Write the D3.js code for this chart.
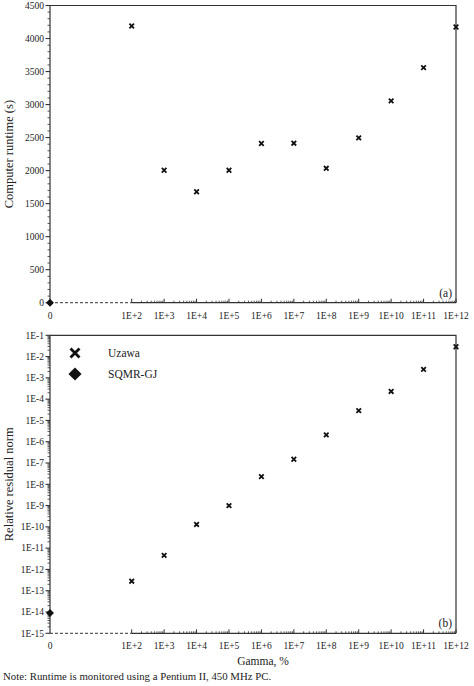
<!DOCTYPE html>
<html>
<head>
<meta charset="utf-8">
<script src="https://cdn.jsdelivr.net/npm/d3@7"></script>
<style>
  body { margin: 0; background: #fff; }
  text { font-family: "Liberation Serif", "DejaVu Serif", serif; fill: #222; }
</style>
</head>
<body>
<div id="chart"></div>
<script>
// data
var gammaLabels = ["1E+2", "1E+3", "1E+4", "1E+5", "1E+6", "1E+7", "1E+8", "1E+9", "1E+10", "1E+11", "1E+12"];
var gamma = [1e2, 1e3, 1e4, 1e5, 1e6, 1e7, 1e8, 1e9, 1e10, 1e11, 1e12];
var runtimeUzawa = [4190, 2005, 1680, 2005, 2410, 2415, 2035, 2495, 3055, 3560, 4175];
var residualUzawa = [2.8e-13, 4.6e-12, 1.3e-10, 1.0e-9, 2.3e-8, 1.5e-7, 2.1e-6, 2.9e-5, 2.3e-4, 2.5e-3, 2.9e-2];
var runtimeSQMR = [0];      // plotted at gamma = 0
var residualSQMR = [9e-15];
var runtimeTicks = [0, 500, 1000, 1500, 2000, 2500, 3000, 3500, 4000, 4500];
var residualTicks = [1e-15, 1e-14, 1e-13, 1e-12, 1e-11, 1e-10, 1e-9, 1e-8, 1e-7, 1e-6, 1e-5, 1e-4, 1e-3, 1e-2, 1e-1];

var W = 474, H = 686;
var left = 50, right = 456, xBreak = 131.7;

var svg = d3.select("#chart").append("svg")
    .attr("width", W)
    .attr("height", H);

// x: gamma = 0 sits at the left edge, log part starts at 1E+2
var x = d3.scaleLog().domain([1e2, 1e12]).range([xBreak, right]);

var crossPath = function(s) {
  return "M" + (-s) + "," + (-s) + "L" + s + "," + s + "M" + (-s) + "," + s + "L" + s + "," + (-s);
};

function panel(top, bottom, y, yTicks, yMinor, yFmt, title, tag, uz, sq) {
  var g = svg.append("g");

  // frame: left, top, right
  g.append("path")
    .attr("d", "M" + left + "," + bottom + "V" + top + "H" + right + "V" + bottom)
    .attr("fill", "none").attr("stroke", "#333").attr("stroke-width", 1.2);
  // bottom: dashed across the break, solid under the log part
  g.append("line").attr("x1", left).attr("x2", xBreak).attr("y1", bottom).attr("y2", bottom)
    .attr("stroke", "#333").attr("stroke-width", 1).attr("stroke-dasharray", "3,2");
  g.append("line").attr("x1", xBreak).attr("x2", right).attr("y1", bottom).attr("y2", bottom)
    .attr("stroke", "#333").attr("stroke-width", 1.2);

  // x ticks point inward
  var minor = [];
  for (var e = 2; e < 12; e++) for (var m = 2; m < 10; m++) minor.push(m * Math.pow(10, e));
  g.selectAll(".xmin").data(minor).enter().append("line")
    .attr("x1", function(d) { return x(d); }).attr("x2", function(d) { return x(d); })
    .attr("y1", bottom).attr("y2", bottom - 2)
    .attr("stroke", "#333").attr("stroke-width", 0.8);
  g.selectAll(".xmaj").data(gamma).enter().append("line")
    .attr("x1", function(d) { return x(d); }).attr("x2", function(d) { return x(d); })
    .attr("y1", bottom).attr("y2", bottom - 4)
    .attr("stroke", "#333").attr("stroke-width", 1);
  g.selectAll(".xlab").data(gammaLabels).enter().append("text")
    .attr("x", function(d, i) { return x(gamma[i]); })
    .attr("y", bottom + 16)
    .attr("text-anchor", "middle").attr("font-size", 9.5)
    .text(function(d) { return d; });
  g.append("text").attr("x", left).attr("y", bottom + 16)
    .attr("text-anchor", "middle").attr("font-size", 9.5).text("0");

  // y ticks point outward
  g.selectAll(".ymin").data(yMinor).enter().append("line")
    .attr("x1", left - 2.5).attr("x2", left)
    .attr("y1", function(d) { return y(d); }).attr("y2", function(d) { return y(d); })
    .attr("stroke", "#333").attr("stroke-width", 0.8);
  g.selectAll(".ymaj").data(yTicks).enter().append("line")
    .attr("x1", left - 4.5).attr("x2", left)
    .attr("y1", function(d) { return y(d); }).attr("y2", function(d) { return y(d); })
    .attr("stroke", "#333").attr("stroke-width", 1.1);
  g.selectAll(".ylab").data(yTicks).enter().append("text")
    .attr("x", left - 6)
    .attr("y", function(d) { return y(d) + 3.3; })
    .attr("text-anchor", "end").attr("font-size", 9.5)
    .text(yFmt);

  g.append("text")
    .attr("transform", "translate(13," + ((top + bottom) / 2) + ") rotate(-90)")
    .attr("text-anchor", "middle").attr("font-size", 12.5)
    .text(title);

  g.append("text").attr("x", right - 4).attr("y", bottom - 6)
    .attr("text-anchor", "end").attr("font-size", 11.5).text(tag);

  // Uzawa
  g.selectAll(".uz").data(uz).enter().append("path")
    .attr("transform", function(d, i) { return "translate(" + x(gamma[i]) + "," + y(d) + ")"; })
    .attr("d", crossPath(2.3))
    .attr("stroke", "#111").attr("stroke-width", 1.8).attr("fill", "none");
  // SQMR-GJ
  g.selectAll(".sq").data(sq).enter().append("path")
    .attr("transform", function(d) { return "translate(" + left + "," + y(d) + ")"; })
    .attr("d", d3.symbol(d3.symbolDiamond2, 40))
    .attr("fill", "#111");
}

// (a) runtime
var yA = d3.scaleLinear().domain([0, 4500]).range([302.7, 5.5]);
var minorA = d3.range(0, 4501, 100).filter(function(d) { return d % 500 !== 0; });
panel(5.5, 302.7, yA, runtimeTicks, minorA, function(d) { return d; },
      "Computer runtime (s)", "(a)", runtimeUzawa, runtimeSQMR);

// (b) residual
var yB = d3.scaleLog().domain([1e-15, 1e-1]).range([633.3, 335.3]);
var minorB = [];
for (var e = -15; e < -1; e++) for (var m = 2; m < 10; m++) minorB.push(m * Math.pow(10, e));
panel(335.3, 633.3, yB, residualTicks, minorB,
      function(d) { return "1E" + Math.round(Math.log10(d)); },
      "Relative residual norm", "(b)", residualUzawa, residualSQMR);

// legend
var legend = svg.append("g");
legend.append("path").attr("transform", "translate(75,353)")
  .attr("d", crossPath(4.5))
  .attr("stroke", "#111").attr("stroke-width", 2.8).attr("fill", "none");
legend.append("path").attr("transform", "translate(75,374)")
  .attr("d", d3.symbol(d3.symbolDiamond2, 110)).attr("fill", "#111");
legend.append("text").attr("x", 108).attr("y", 357).attr("font-size", 11.5).text("Uzawa");
legend.append("text").attr("x", 108).attr("y", 378).attr("font-size", 11.5).text("SQMR-GJ");

// axis title and note
svg.append("text").attr("x", 263).attr("y", 665)
  .attr("text-anchor", "middle").attr("font-size", 11.5).text("Gamma, %");
svg.append("text").attr("x", 3).attr("y", 680)
  .attr("font-size", 10.8).text("Note: Runtime is monitored using a Pentium II, 450 MHz PC.");
</script>
</body>
</html>
